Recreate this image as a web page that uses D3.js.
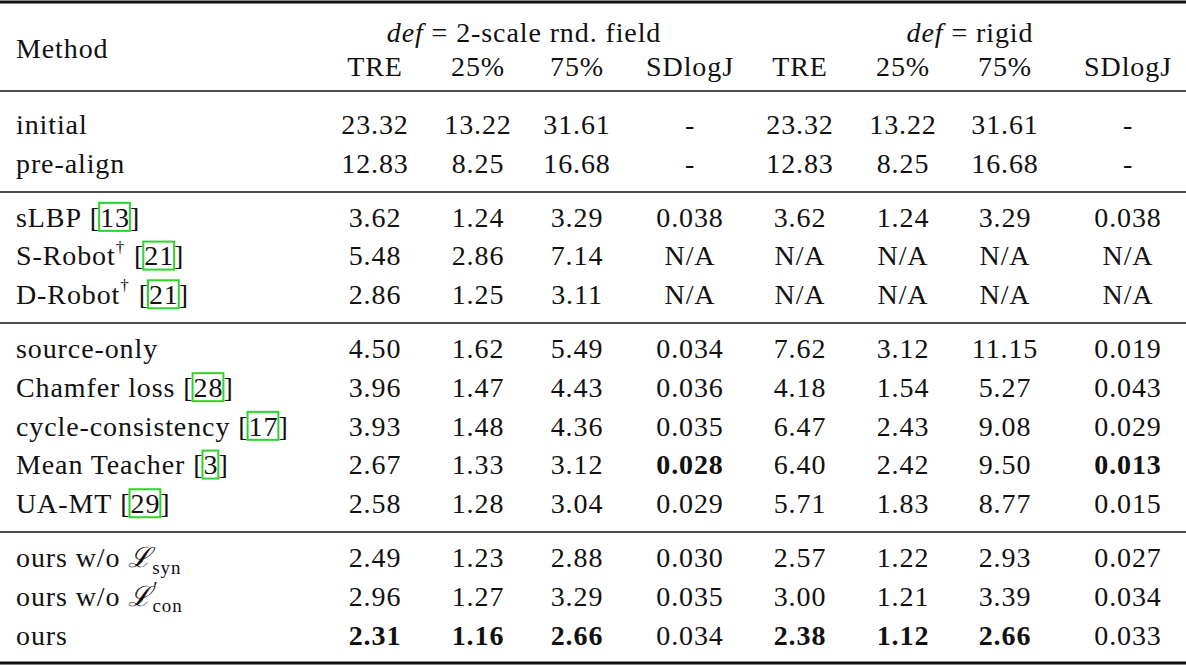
<!DOCTYPE html>
<html><head><meta charset="utf-8">
<script src="https://cdn.jsdelivr.net/npm/d3@7"></script>
<style>body{margin:0;background:#fff}text{font-family:"Liberation Serif","DejaVu Serif",serif;fill:#111;letter-spacing:0.9px}</style>
</head><body><svg id="c" width="1186" height="666"></svg>
<script>
const methods = ["initial","pre-align","sLBP","S-Robot","D-Robot","source-only","Chamfer loss","cycle-consistency","Mean Teacher","UA-MT","ours w/o","ours w/o","ours"];
const cites = [null,null,"13","21","21",null,"28","17","3","29",null,null,null];
const daggers = [0,0,0,1,1,0,0,0,0,0,0,0,0];
const groups = [0,0,1,1,1,2,2,2,2,2,3,3,3];
const colLabels = ["TRE","25%","75%","SDlogJ","TRE","25%","75%","SDlogJ"];
const fieldTRE = ["23.32","12.83","3.62","5.48","2.86","4.50","3.96","3.93","2.67","2.58","2.49","2.96","2.31"];
const field25  = ["13.22","8.25","1.24","2.86","1.25","1.62","1.47","1.48","1.33","1.28","1.23","1.27","1.16"];
const field75  = ["31.61","16.68","3.29","7.14","3.11","5.49","4.43","4.36","3.12","3.04","2.88","3.29","2.66"];
const fieldSD  = ["-","-","0.038","N/A","N/A","0.034","0.036","0.035","0.028","0.029","0.030","0.035","0.034"];
const rigidTRE = ["23.32","12.83","3.62","N/A","N/A","7.62","4.18","6.47","6.40","5.71","2.57","3.00","2.38"];
const rigid25  = ["13.22","8.25","1.24","N/A","N/A","3.12","1.54","2.43","2.42","1.83","1.22","1.21","1.12"];
const rigid75  = ["31.61","16.68","3.29","N/A","N/A","11.15","5.27","9.08","9.50","8.77","2.93","3.39","2.66"];
const rigidSD  = ["-","-","0.038","N/A","N/A","0.019","0.043","0.029","0.013","0.015","0.027","0.034","0.033"];
const columns = [fieldTRE,field25,field75,fieldSD,rigidTRE,rigid25,rigid75,rigidSD];
const bold = [[3,8],[7,8],[0,12],[1,12],[2,12],[4,12],[5,12],[6,12]];

const svg = d3.select("#c");
const FS = 28;
const x = d3.scaleOrdinal().domain(d3.range(8)).range([375,478,577,690,800,903,1005,1128]);
const y = d3.scaleLinear().domain([0,1]).range([124,162.7]);
const rowY = i => y(i + groups[i]*0.4);

function rule(yy,w){svg.append("line").attr("x1",0).attr("x2",1186).attr("y1",yy).attr("y2",yy).attr("stroke","#111").attr("stroke-width",w);}
rule(2,3); rule(91,1.6); rule(192,1.6); rule(323,1.6); rule(532,1.6); rule(663,3);

svg.append("text").attr("x",16).attr("y",48).attr("dy","0.35em").attr("font-size",FS).text("Method");
[[524,"2-scale rnd. field"],[970,"rigid"]].forEach(([cx,t])=>{
  const tx=svg.append("text").attr("x",cx).attr("y",32).attr("dy","0.35em").attr("font-size",FS).attr("text-anchor","middle");
  tx.append("tspan").attr("font-style","italic").text("def");
  tx.append("tspan").text("  =  "+t);
});
colLabels.forEach((l,j)=>svg.append("text").attr("x",x(j)).attr("y",66).attr("dy","0.35em").attr("font-size",FS).attr("text-anchor","middle").text(l));

methods.forEach((m,i)=>{
  const t=svg.append("text").attr("x",16).attr("y",rowY(i)).attr("dy","0.35em").attr("font-size",FS);
  t.append("tspan").text(m);
  if(daggers[i]) t.append("tspan").attr("font-size",17).attr("dy","-0.75em").text("†");
  if(i===10||i===11){
    t.append("tspan").attr("font-style","italic").text(" ℒ");
    if(i===11){
      t.append("tspan").attr("font-size",20).attr("dy","-0.5em").attr("dx",1).text("′");
      t.append("tspan").attr("font-size",19).attr("dy","0.85em").attr("dx",-6).text("con");
    } else {
      t.append("tspan").attr("font-size",19).attr("dy","0.35em").text("syn");
    }
  }
  if(cites[i]){
    const bb=t.node().getBBox();
    const c=svg.append("text").attr("x",bb.x+bb.width+(daggers[i]?9:8)).attr("y",rowY(i)).attr("dy","0.35em").attr("font-size",FS);
    c.append("tspan").text("[");
    const num=c.append("tspan").text(cites[i]);
    c.append("tspan").text("]");
    const nb=num.node().getExtentOfChar(0), ne=num.node().getExtentOfChar(cites[i].length-1);
    svg.append("rect").attr("x",nb.x-1).attr("y",rowY(i)-14).attr("width",ne.x+ne.width-nb.x+1).attr("height",28)
      .attr("fill","none").attr("stroke","#2bd62b").attr("stroke-width",2);
  }
});

columns.forEach((col,j)=>col.forEach((v,i)=>{
  const b=bold.some(([c,r])=>c===j&&r===i);
  svg.append("text").attr("x",x(j)).attr("y",rowY(i)).attr("dy","0.35em").attr("font-size",FS)
    .attr("text-anchor","middle").attr("font-weight",b?"bold":null).text(v);
}));
</script></body></html>
